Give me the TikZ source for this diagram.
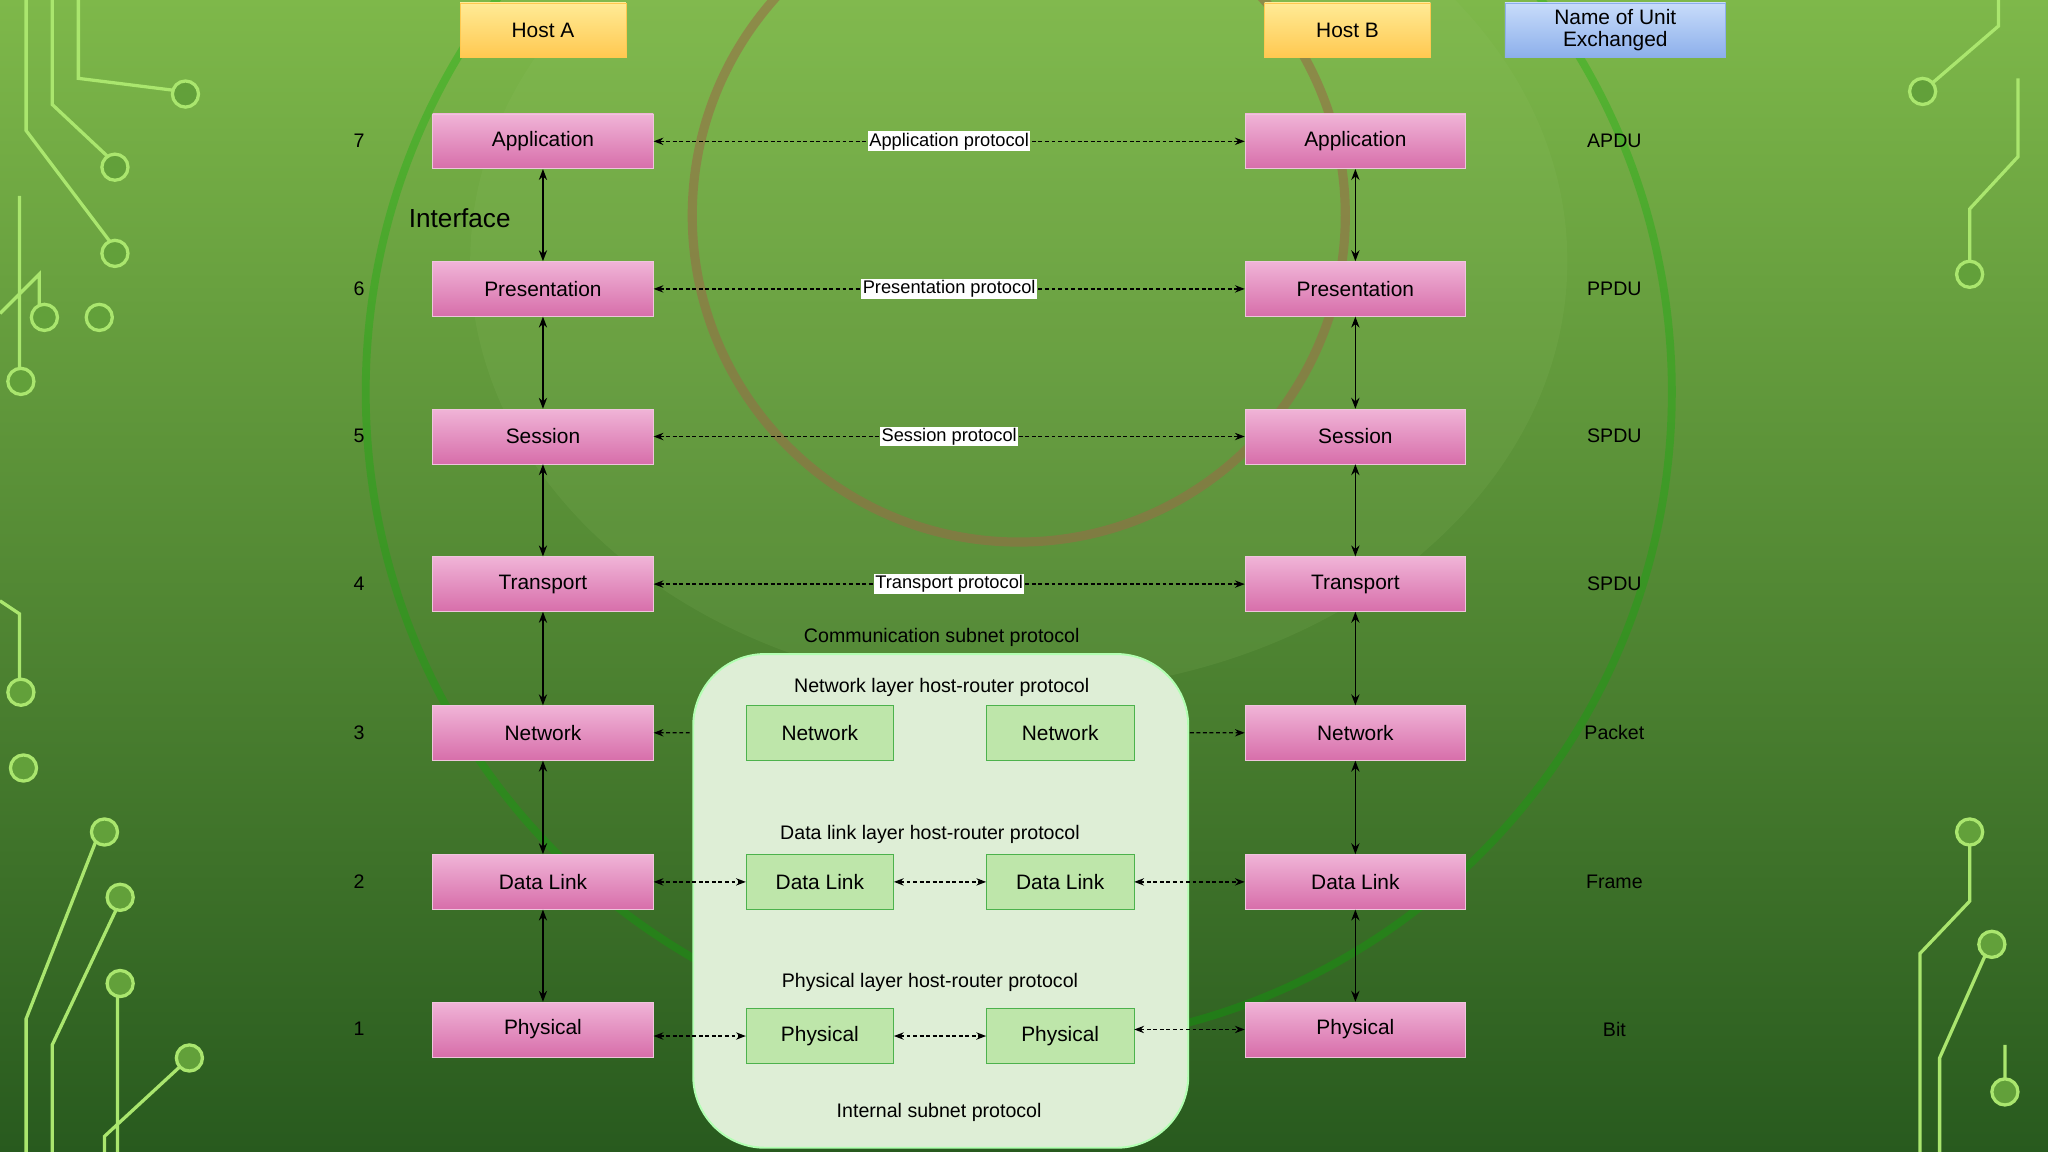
\documentclass[tikz,border=0pt]{standalone}
\usepackage{fontspec}
\setmainfont{Liberation Sans}
\usetikzlibrary{arrows.meta,shadings}
\definecolor{bgtop}{RGB}{126,184,74}
\definecolor{bgmid}{RGB}{98,160,58}
\definecolor{bgbot}{RGB}{40,90,30}
\definecolor{pk1}{RGB}{240,180,215}
\definecolor{pk2}{RGB}{215,110,170}
\definecolor{gb}{RGB}{190,230,170}
\definecolor{subf}{RGB}{222,238,214}
\definecolor{circc}{RGB}{170,230,110}
\definecolor{ring}{RGB}{150,110,70}
\definecolor{hy1}{RGB}{255,235,150}
\definecolor{hy2}{RGB}{255,200,80}
\definecolor{nb1}{RGB}{200,220,250}
\definecolor{nb2}{RGB}{140,175,235}
\begin{document}
\begin{tikzpicture}[x=1pt,y=-1pt,
  lay/.style={draw=white!60!pk2,top color=pk1,bottom color=pk2,minimum width=169pt,minimum height=42pt,font=\fontsize{16}{18}\selectfont,anchor=north west,inner sep=0},
  sub/.style={draw=green!40!gray,fill=gb,minimum width=113pt,minimum height=42pt,font=\fontsize{16}{18}\selectfont,anchor=north west,inner sep=0},
  host/.style={draw=hy2,top color=hy1,bottom color=hy2,minimum width=127pt,minimum height=42pt,font=\fontsize{16}{18}\selectfont,anchor=north west,inner sep=0},
  vv/.style={{Stealth}-{Stealth},line width=1.2pt},
  hh/.style={{Stealth}-{Stealth},dash pattern=on 3pt off 2pt,line width=1pt},
  plab/.style={fill=white,inner sep=1pt,font=\fontsize{14}{16}\selectfont},
  txt/.style={font=\fontsize{15}{17}\selectfont},
  circ/.style={draw=circc,line width=2.5pt}]
\useasboundingbox (0,0) rectangle (1568,882);
\shade[top color=bgtop,middle color=bgmid,bottom color=bgbot] (0,0) rectangle (1568,882);
\fill[bgtop!80!white,opacity=0.12] (780,200) ellipse (420 and 330);
\draw[ring,line width=7pt,opacity=0.6] (780,165) circle (250);
\draw[green!70!black,line width=6pt,opacity=0.3] (780,300) circle (500);
% circuit decorations
\draw[circ] (20,0)--(20,100)--(88,190) (60,0)--(60,60)--(140,70);
\draw[circ] (40,0)--(40,80)--(88,125) (0,240)--(30,210)--(30,240) (15,150)--(15,290);
\draw[circ] (0,460)--(15,470)--(15,530) (75,640)--(20,780)--(20,882) (92,690)--(40,800)--(40,882) (90,750)--(90,882) (145,810)--(80,870)--(80,882);
\draw[circ] (1530,0)--(1530,20)--(1472,70) (1545,60)--(1545,120)--(1508,160)--(1508,210);
\draw[circ] (1508,640)--(1508,690)--(1470,730)--(1470,882) (1525,720)--(1485,810)--(1485,882) (1535,800)--(1535,835);
\foreach \p in {(142,72),(88,128),(88,194),(76,243),(16,292),(34,243),(16,530),(18,588),(80,637),(92,687),(92,753),(145,810),(1472,70),(1508,210),(1508,637),(1525,723),(1535,836)} \draw[circ,fill=bgmid] \p circle (10);
% headers
\node[host] (ha) at (352,2) {Host A};
\node[host] (hb) at (968,2) {Host B};
\node[draw=nb2,top color=nb1,bottom color=nb2,minimum width=169pt,minimum height=42pt,anchor=north west,inner sep=0,align=center,font=\fontsize{16}{17}\selectfont] (nu) at (1152,2) {Name of Unit\\Exchanged};
% subnet box
\node[draw=white!70!green,line width=1.5pt,fill=subf,rounded corners=55pt,minimum width=379pt,minimum height=378pt,anchor=north west] (sn) at (530,500) {};
\node[txt] (csp) at (721,488) {Communication subnet protocol};
\node[txt] (nlp) at (721,526) {Network layer host-router protocol};
\node[txt] (dlp) at (712,639) {Data link layer host-router protocol};
\node[txt] (plp) at (712,752) {Physical layer host-router protocol};
\node[txt] (isp) at (719,852) {Internal subnet protocol};
% layers
\foreach \n/\t/\y/\num/\u in {a/Application/87/7/APDU,p/Presentation/200/6/PPDU,s/Session/313/5/SPDU,t/Transport/426/4/SPDU,n/Network/540/3/Packet,d/Data Link/654/2/Frame,h/Physical/767/1/Bit}{
  \node[lay] (A\n) at (331,\y) {\t};
  \node[lay] (B\n) at (953,\y) {\t};
  \node[txt] (N\n) at (275,\y+21) {\num};
  \node[txt] (U\n) at (1236,\y+21) {\u};
}
\node[font=\fontsize{20}{22}\selectfont] (intf) at (352,167) {Interface};
\foreach \a/\b in {a/p,p/s,s/t,t/n,n/d,d/h}{
  \draw[vv] (A\a) -- (A\b);
  \draw[vv] (B\a) -- (B\b);
}
\node[sub] (Gn1) at (571,540) {Network};
\node[sub] (Gn2) at (755,540) {Network};
\node[sub] (Gd1) at (571,654) {Data Link};
\node[sub] (Gd2) at (755,654) {Data Link};
\node[sub] (Gh1) at (571,772) {Physical};
\node[sub] (Gh2) at (755,772) {Physical};
\draw[hh] (Aa) -- node[plab] {Application protocol} (Ba);
\draw[hh] (Ap) -- node[plab] {Presentation protocol} (Bp);
\draw[hh] (As) -- node[plab] {Session protocol} (Bs);
\draw[hh] (At) -- node[plab] {Transport protocol} (Bt);
\coordinate (nl) at (528,561);
\coordinate (nr) at (911,561);
\draw[{Stealth}-,dash pattern=on 3pt off 2pt,line width=1pt] (An) -- (nl);
\draw[-{Stealth},dash pattern=on 3pt off 2pt,line width=1pt] (nr) -- (Bn);
\draw[hh] (Ad) -- (Gd1);
\draw[hh] (Gd1) -- (Gd2);
\draw[hh] (Gd2) -- (Bd);
\draw[hh] (Ah.east |- Gh1.west) -- (Gh1.west);
\draw[hh] (Gh1) -- (Gh2);
\draw[hh] (Gh2.east |- Bh.west) -- (Bh.west);
\end{tikzpicture}
\end{document}
